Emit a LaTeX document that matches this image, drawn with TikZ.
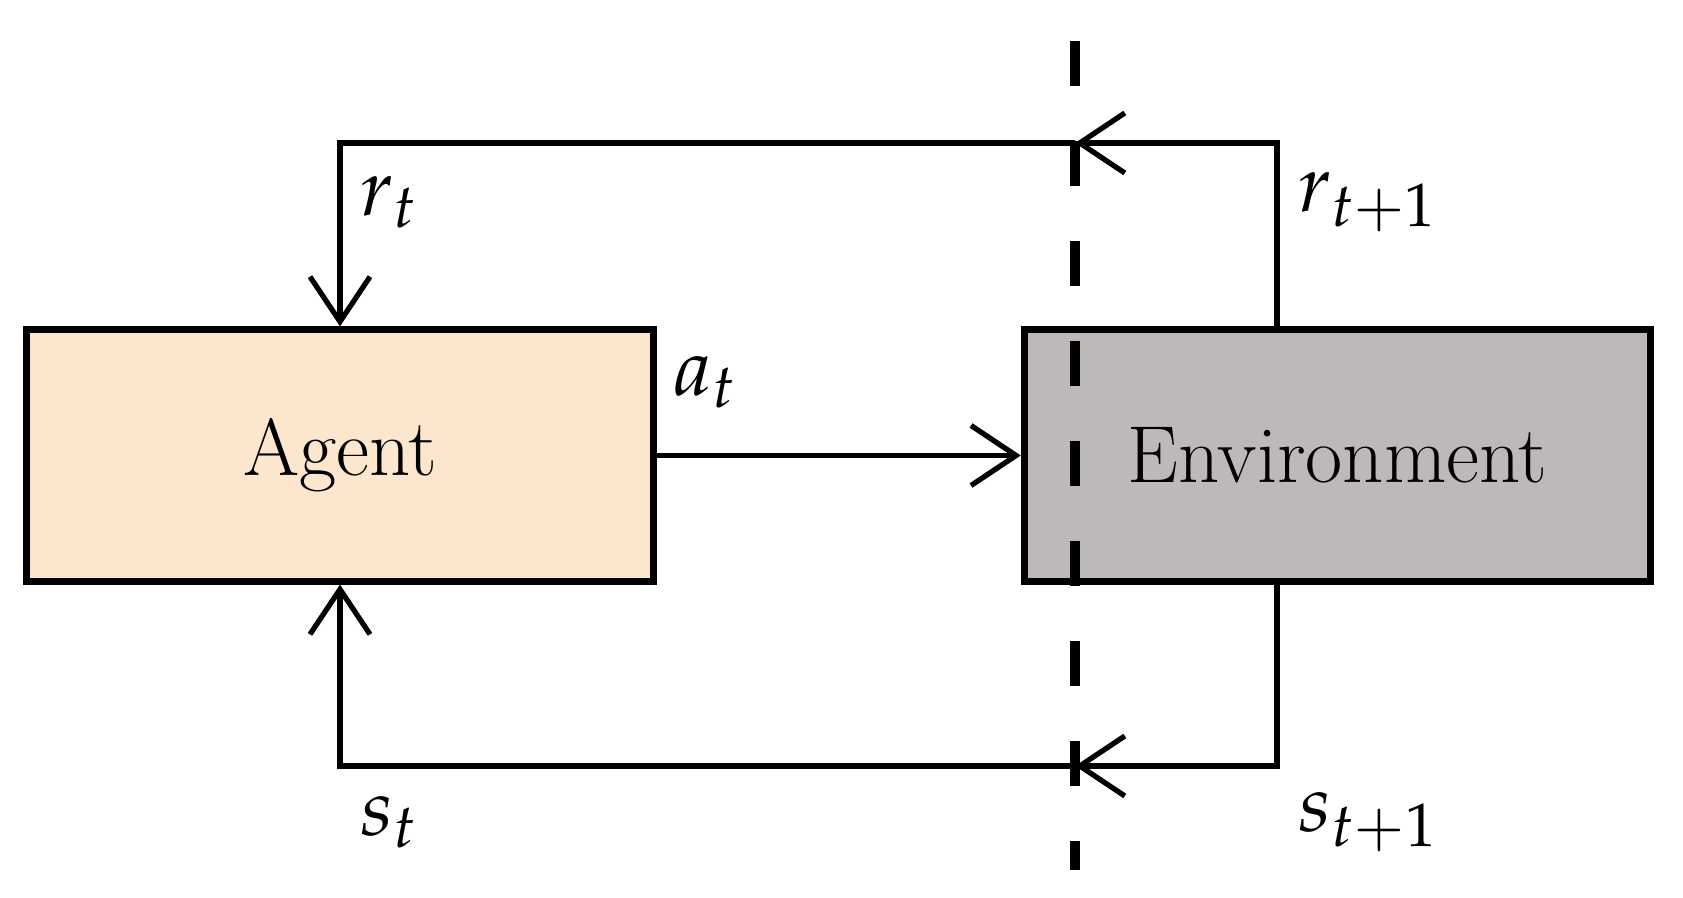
\documentclass[tikz,border=0pt]{standalone}
\usepackage{mathpazo}
\usetikzlibrary{arrows.meta}
\definecolor{agentc}{RGB}{253,230,206}
\definecolor{envc}{RGB}{188,184,188}
\begin{document}
\begin{tikzpicture}[x=0.01cm,y=-0.01cm,
  box/.style={draw,line width=2pt,minimum width=6.26cm,minimum height=2.51cm,inner sep=0pt,font=\fontsize{23}{27}\selectfont},
  flow/.style={line width=1.5pt,-{Straight Barb[length=4.5mm,width=6mm,line width=1.5pt]}},
  lbl/.style={font=\fontsize{23}{27}\selectfont,inner sep=0pt}]
\useasboundingbox (0,0) rectangle (1683,898);
\node[box,fill=agentc] (agent) at (340,455.5) {Agent};
\node[box,fill=envc] (env) at (1337.5,455.5) {Environment};
\coordinate (cut1) at (1075,143);
\coordinate (cut2) at (1075,766);
\draw[line width=3pt,dash pattern=on 0.45cm off 0.55cm] (1075,41) -- (1075,870);
% reward
\draw[flow] (env.north -| 1277,0) |- (cut1);
\draw[flow] (cut1) -| (agent.north);
% state
\draw[flow] (env.south -| 1277,0) |- (cut2);
\draw[flow] (cut2) -| (agent.south);
% action
\draw[flow] (agent.east) -- (env.west);
\node[lbl] (rt) at (389,202) {$r_t$};
\node[lbl] (rt1) at (1368,202) {$r_{t+1}$};
\node[lbl] (at) at (705,382) {$a_t$};
\node[lbl] (st) at (389,822) {$s_t$};
\node[lbl] (st1) at (1368,822) {$s_{t+1}$};
\end{tikzpicture}
\end{document}
